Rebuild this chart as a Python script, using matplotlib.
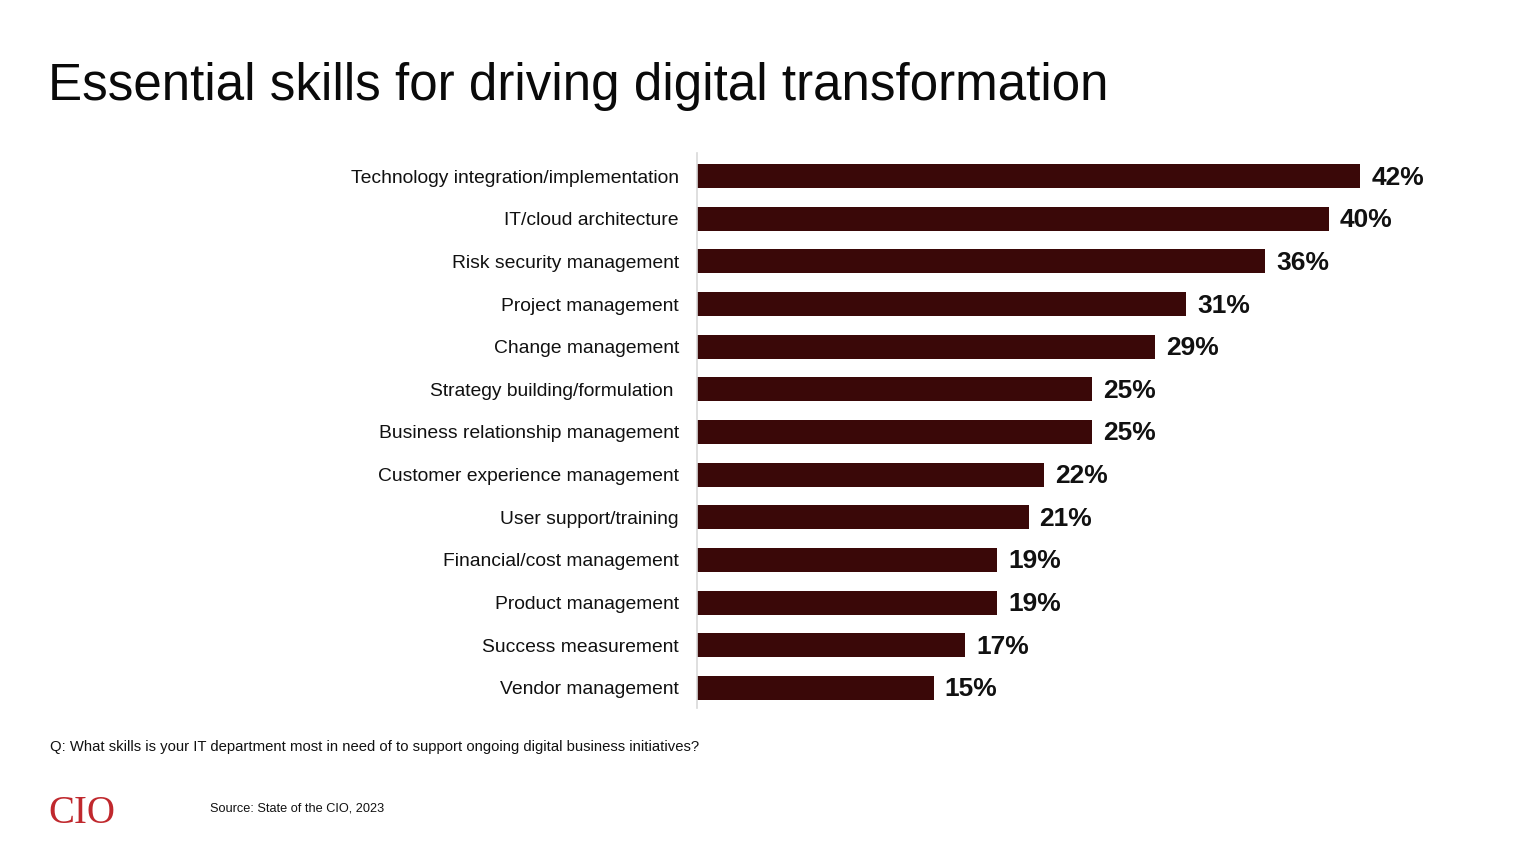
import matplotlib
matplotlib.use("Agg")
import matplotlib.pyplot as plt
from matplotlib import transforms

categories = [
    "Technology integration/implementation",
    "IT/cloud architecture",
    "Risk security management",
    "Project management",
    "Change management",
    "Strategy building/formulation ",
    "Business relationship management",
    "Customer experience management",
    "User support/training",
    "Financial/cost management",
    "Product management",
    "Success measurement",
    "Vendor management",
]
values = [42, 40, 36, 31, 29, 25, 25, 22, 21, 19, 19, 17, 15]

title = "Essential skills for driving digital transformation"
question = "Q: What skills is your IT department most in need of to support ongoing digital business initiatives?"
source = "Source: State of the CIO, 2023"

W, H = 1536, 864
fig = plt.figure(figsize=(W / 100, H / 100), dpi=100)
fig.patch.set_facecolor("white")
plt.rcParams["font.family"] = ["Liberation Sans", "DejaVu Sans"]

ax_left, ax_right = 697, 697 + 50 * 15.79
ax_top, ax_bot = 153, 708
ax = fig.add_axes([ax_left / W, 1 - ax_bot / H, (ax_right - ax_left) / W, (ax_bot - ax_top) / H])

bar_color = "#3a0808"
y = list(range(len(categories)))
ax.barh(y, values, height=0.56, color=bar_color)
ax.set_xlim(0, 50)
ax.set_ylim(12.47, -0.54)

for s in ["top", "right", "bottom"]:
    ax.spines[s].set_visible(False)
ax.spines["left"].set_color("#d9d9d9")
ax.spines["left"].set_linewidth(1.2)
ax.set_xticks([])
ax.set_yticks(y)
ax.set_yticklabels(categories, fontsize=13.9, color="#111111")
ax.tick_params(axis="y", length=0, pad=13)

offset = transforms.offset_copy(ax.transData, fig=fig, x=11 * 0.72, y=-1.5 * 0.72, units="points")
for yi, v in zip(y, values):
    ax.text(v, yi, f"{v}%", transform=offset, ha="left", va="center",
            fontsize=19, fontweight="bold", color="#111111")

fig.text(48 / W, 1 - 100 / H, title, fontsize=36.8, color="#0a0a0a", ha="left", va="baseline")
fig.text(50 / W, 1 - 747.5 / H, question, fontsize=10.7, color="#111111", ha="left", va="center")
fig.text(210 / W, 1 - 808.5 / H, source, fontsize=9.15, color="#111111", ha="left", va="center")
fig.text(48 / W, 1 - 823 / H, "CIO", fontsize=28, color="#c0282d", ha="left", va="baseline",
         family=["Liberation Serif", "DejaVu Serif"])

fig.savefig("out.png", dpi=100, facecolor="white")
